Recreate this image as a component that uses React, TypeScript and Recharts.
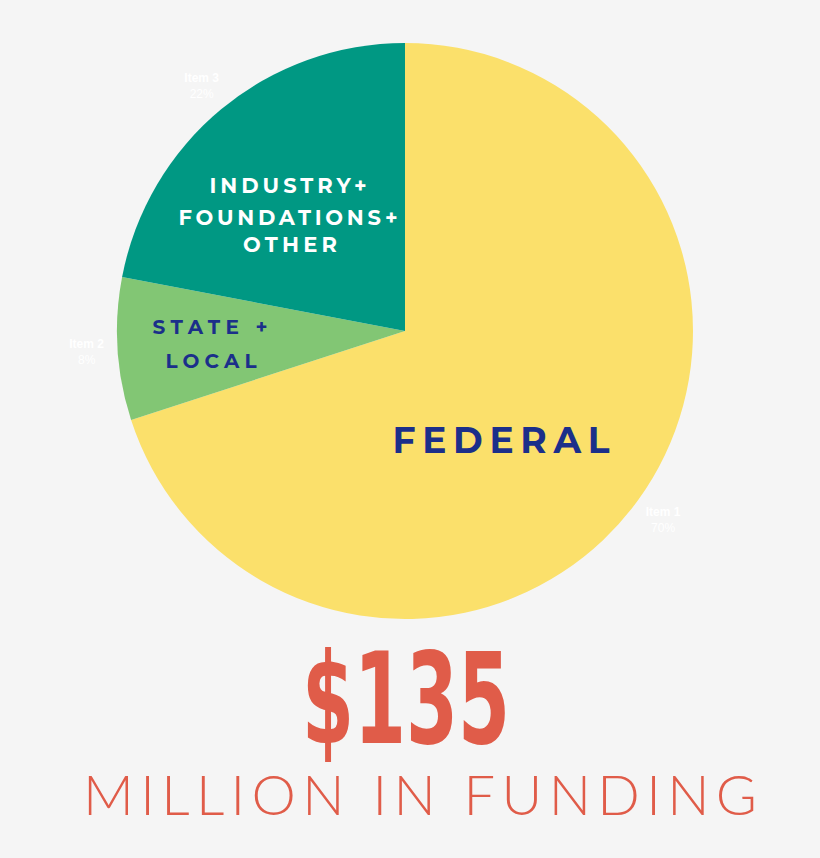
import { PieChart, Pie, Cell } from "recharts"

const categories = ["FEDERAL", "STATE + LOCAL", "INDUSTRY + FOUNDATIONS + OTHER"]
const itemLabels = ["Item 1", "Item 2", "Item 3"]
const shares = [70, 8, 22]
const sliceColors = ["#fbe06b", "#82c674", "#009883"]

const data = categories.map((name, i) => ({ name, item: itemLabels[i], value: shares[i] }))

const RADIAN = Math.PI / 180

// faint white "Item N / X%" labels just outside the pie
const renderItemLabel = (props: any) => {
  const { cx, cy, midAngle, outerRadius, payload } = props
  const r = outerRadius + 31
  const x = cx + r * Math.cos(-midAngle * RADIAN)
  const y = cy + r * Math.sin(-midAngle * RADIAN)
  return (
    <text x={x} y={y} textAnchor="middle" fill="#ffffff" fontFamily="Liberation Sans, Arial, sans-serif" fontSize={12} fontWeight={700}>
      <tspan x={x} dy={-3}>{payload.item}</tspan>
      <tspan x={x} dy={16} fontWeight={400}>{payload.value}%</tspan>
    </text>
  )
}

const bold = "Montserrat, 'Open Sans', 'Noto Sans', sans-serif"

export default function App() {
  return (
    <div style={{ position: "fixed", left: 0, top: 0, width: 820, height: 858, background: "#f5f5f5" }}>
      <PieChart width={820} height={858} margin={{ top: 0, right: 0, bottom: 0, left: 0 }}>
        <Pie
          data={data}
          dataKey="value"
          nameKey="name"
          cx={405}
          cy={331}
          outerRadius={288}
          startAngle={90}
          endAngle={-270}
          stroke="none"
          label={renderItemLabel}
          labelLine={false}
          isAnimationActive={false}
        >
          {data.map((d, i) => (
            <Cell key={d.name} fill={sliceColors[i]} />
          ))}
        </Pie>
      </PieChart>
      <svg width={820} height={858} style={{ position: "absolute", left: 0, top: 0, pointerEvents: "none" }}>
        <g fontFamily={bold} fontWeight={700} fill="#ffffff" fontSize={21} textAnchor="middle">
          <text x={288} y={193} textLength={157} lengthAdjust="spacing">INDUSTRY+</text>
          <text x={288} y={225} textLength={219} lengthAdjust="spacing">FOUNDATIONS+</text>
          <text x={290} y={252} textLength={94} lengthAdjust="spacing">OTHER</text>
        </g>
        <g fontFamily={bold} fontWeight={700} fill="#1b2f8a" fontSize={20} textAnchor="middle">
          <text x={210} y={334} textLength={115} lengthAdjust="spacing">STATE +</text>
          <text x={211} y={368} textLength={91} lengthAdjust="spacing">LOCAL</text>
        </g>
        <text x={501} y={453} textAnchor="middle" fontFamily={bold} fontWeight={700} fill="#1b2f8a" fontSize={36} textLength={217} lengthAdjust="spacing">
          FEDERAL
        </text>
        <text x={406} y={743} textAnchor="middle" fontFamily="'Liberation Sans Narrow', 'DejaVu Sans Condensed', sans-serif" fontWeight={700} fill="#e05c49" fontSize={126} textLength={208} lengthAdjust="spacingAndGlyphs">
          $135
        </text>
        <text x={420} y={815} textAnchor="middle" fontFamily="Lato, 'Open Sans', sans-serif" fontWeight={300} fill="#e05c49" fontSize={56} textLength={674} lengthAdjust="spacing">
          MILLION IN FUNDING
        </text>
      </svg>
    </div>
  )
}
